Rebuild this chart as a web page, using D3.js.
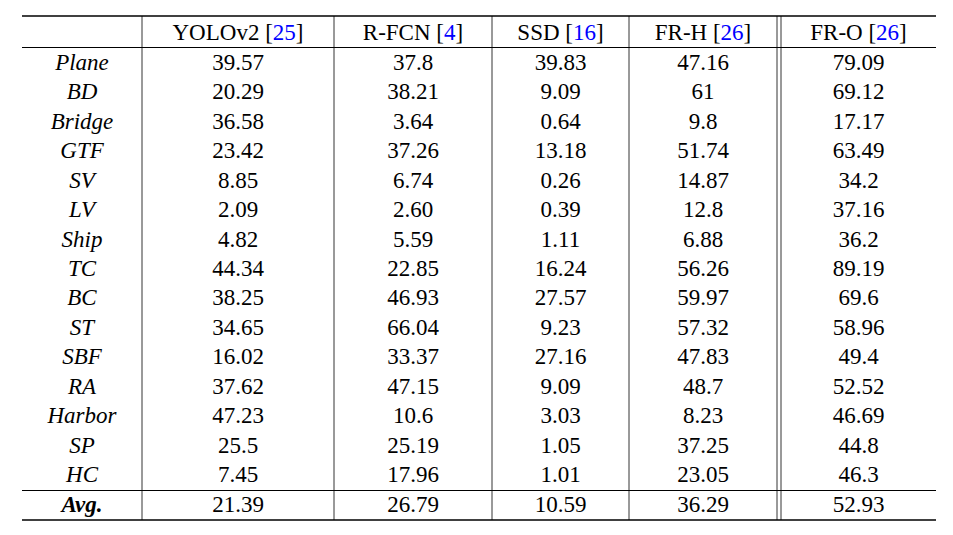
<!DOCTYPE html>
<html>
<head>
	<script src="https://cdn.jsdelivr.net/npm/d3@7/dist/d3.min.js"></script>
	<style>
		html, body { padding: 0; margin: 0; background: #fff; }
	</style>
</head>
<body>
	<script>
		var width = 953, height = 535;

		var methods = ["YOLOv2", "R-FCN", "SSD", "FR-H", "FR-O"];
		var refs = ["25", "4", "16", "26", "26"];
		var classes = ["Plane", "BD", "Bridge", "GTF", "SV", "LV", "Ship", "TC", "BC", "ST", "SBF", "RA", "Harbor", "SP", "HC"];
		var yolo = ["39.57", "20.29", "36.58", "23.42", "8.85", "2.09", "4.82", "44.34", "38.25", "34.65", "16.02", "37.62", "47.23", "25.5", "7.45"];
		var rfcn = ["37.8", "38.21", "3.64", "37.26", "6.74", "2.60", "5.59", "22.85", "46.93", "66.04", "33.37", "47.15", "10.6", "25.19", "17.96"];
		var ssd = ["39.83", "9.09", "0.64", "13.18", "0.26", "0.39", "1.11", "16.24", "27.57", "9.23", "27.16", "9.09", "3.03", "1.05", "1.01"];
		var frh = ["47.16", "61", "9.8", "51.74", "14.87", "12.8", "6.88", "56.26", "59.97", "57.32", "47.83", "48.7", "8.23", "37.25", "23.05"];
		var fro = ["79.09", "69.12", "17.17", "63.49", "34.2", "37.16", "36.2", "89.19", "69.6", "58.96", "49.4", "52.52", "46.69", "44.8", "46.3"];
		var avg = ["21.39", "26.79", "10.59", "36.29", "52.93"];

		var series = [yolo, rfcn, ssd, frh, fro];
		var colEdges = [22, 142, 334, 492, 629, 777, 936];
		var font = "'Liberation Serif', serif";

		var svg = d3.select("body").append("svg")
			.attr("width", width).attr("height", height)
			.style("font-family", font).style("font-size", "23px");

		// row centres of the 15 class rows
		var y = d3.scaleLinear().domain([0, 14]).range([62, 474]);
		function cx(i) { return i === 4 ? (781 + 936) / 2 : (colEdges[i + 1] + colEdges[i + 2]) / 2; }

		// horizontal rules
		[[16, 1.4], [47.5, 1], [490.5, 1], [520, 1.4]].forEach(function (r) {
			svg.append("line").attr("x1", 22).attr("x2", 936).attr("y1", r[0]).attr("y2", r[0])
				.attr("stroke", "#000").attr("stroke-width", r[1]);
		});
		// vertical rules
		[142, 334, 492, 629, 777, 781].forEach(function (x) {
			svg.append("line").attr("x1", x).attr("x2", x).attr("y1", 16).attr("y2", 520)
				.attr("stroke", "#000").attr("stroke-width", 0.8);
		});

		// header
		methods.forEach(function (m, i) {
			var t = svg.append("text").attr("x", cx(i)).attr("y", 32).attr("dy", "0.35em")
				.attr("text-anchor", "middle").attr("fill", "#000");
			t.append("tspan").text(m + " ");
			t.append("tspan").text("[");
			t.append("tspan").attr("fill", "#0000ff").text(refs[i]);
			t.append("tspan").text("]");
		});

		// class labels
		svg.selectAll("text.cls").data(classes).enter().append("text")
			.attr("class", "cls").attr("x", 82).attr("y", function (d, i) { return y(i); })
			.attr("dy", "0.35em").attr("text-anchor", "middle").style("font-style", "italic")
			.text(function (d) { return d; });

		// values
		series.forEach(function (s, j) {
			svg.selectAll("text.v" + j).data(s).enter().append("text")
				.attr("class", "v" + j).attr("x", cx(j)).attr("y", function (d, i) { return y(i); })
				.attr("dy", "0.35em").attr("text-anchor", "middle")
				.text(function (d) { return d; });
		});

		// average row
		svg.append("text").attr("x", 82).attr("y", 504).attr("dy", "0.35em").attr("text-anchor", "middle")
			.style("font-style", "italic").style("font-weight", "bold").text("Avg.");
		avg.forEach(function (v, j) {
			svg.append("text").attr("x", cx(j)).attr("y", 504).attr("dy", "0.35em")
				.attr("text-anchor", "middle").text(v);
		});
	</script>
</body>
</html>
